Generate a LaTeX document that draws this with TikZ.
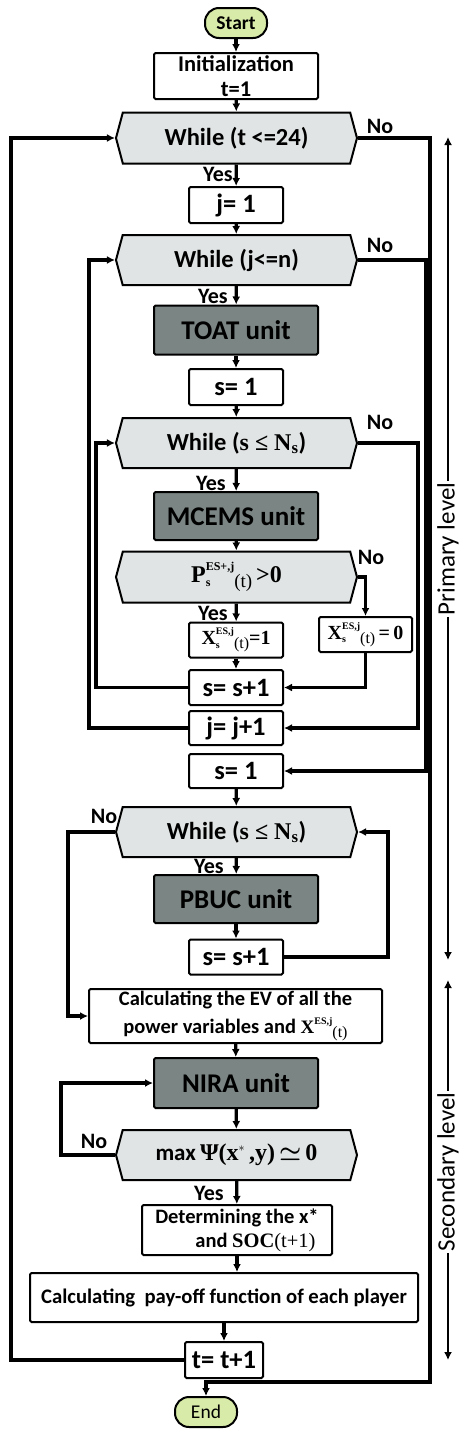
\documentclass[tikz,border=0pt]{standalone}
\usepackage{amsmath}
\usepackage{fontspec}
\setmainfont{Carlito}
\newfontfamily\tms{Liberation Serif}
\usetikzlibrary{shapes.symbols, arrows.meta}

\definecolor{termgreen}{HTML}{D9EBA8}
\definecolor{condgray}{HTML}{E1E4E4}
\definecolor{unitgray}{HTML}{7B8584}

% stacked sub/superscripts in the serif formulas: {size}{sup}{sub}
\newlength\supw
\newcommand{\esj}[3]{\settowidth{\supw}{\fontsize{#1}{#1}\selectfont #2}%
  \rlap{\raisebox{0.5em}{\fontsize{#1}{#1}\selectfont #2}}%
  \rlap{\raisebox{-0.18em}{\fontsize{#1}{#1}\selectfont #3}}\hspace{\supw}}
\newcommand{\tpar}[1]{\raisebox{-0.45ex}{\fontsize{#1}{#1}\selectfont\mdseries(t)}}

\begin{document}
\begin{tikzpicture}[x=1pt, y=-1pt, >={Latex[length=8pt,width=8pt]}]
\tikzstyle{box}=[draw=black, line width=2pt, fill=white, rounded corners=1.5pt, inner sep=1pt, align=center, font=\bfseries\fontsize{26.5}{28}\selectfont]
\tikzstyle{unit}=[box, fill=unitgray, text=black, font=\bfseries\fontsize{27}{29}\selectfont]
\tikzstyle{cond}=[shape=signal, signal to=west and east, signal pointer angle=150, draw=black, line width=2pt, fill=condgray, inner sep=1pt, minimum width=241pt, minimum height=50pt, font=\bfseries\fontsize{24.5}{26}\selectfont]
\tikzstyle{term}=[draw=black, line width=2pt, fill=termgreen, rounded corners=14pt, minimum width=62pt, minimum height=30pt, inner sep=0pt, font=\fontsize{19.5}{21}\selectfont]
\tikzstyle{flow}=[->, line width=3.2pt]
\tikzstyle{lbl}=[inner sep=0pt, font=\bfseries\fontsize{22}{24}\selectfont]
\tikzstyle{level}=[rotate=90, inner sep=1.5pt, font=\fontsize{25}{28}\selectfont]

\useasboundingbox (0,0) rectangle (474,1432);

% outer loop over t
\node (start) at (236,23) [term] {\bfseries Start};
\node (init) at (236,76) [box, minimum width=164pt, minimum height=46pt, inner sep=0pt, font=\bfseries\fontsize{22.5}{25}\selectfont] {Initialization\\t=1};
\node (whilet) at (236.5,138) [cond, minimum height=51pt] {While (t <=24)};
\node (j1) at (236,205) [box, minimum width=94pt, minimum height=36pt] {j= 1};

% loop over j
\node (whilej) at (236.5,260) [cond] {While (j<=n)};
\node (toat) at (236,330) [unit, minimum width=164pt, minimum height=49pt] {TOAT unit};
\node (s1a) at (236,387) [box, minimum width=94pt, minimum height=36pt] {s= 1};

% loop over s
\node (whiles) at (236.5,443) [cond] {While ({\tms\fontsize{24}{26}\selectfont s ≤ N$_\text{s}$})};
\node (mcems) at (236,516) [unit, minimum width=164pt, minimum height=48pt] {MCEMS unit};
\node (pcond) at (236.5,577) [cond, minimum height=51pt] {\tms\fontsize{24}{26}\selectfont P\esj{12}{ES+,j}{s}\tpar{19}\,>0};
\node (x1) at (236,640) [box, minimum width=94pt, minimum height=35pt, font=\tms\bfseries\fontsize{20}{22}\selectfont] {X\esj{10}{ES,j}{s}\tpar{16}=1};
\node (x0) at (365.5,634.5) [box, minimum width=93pt, minimum height=35pt, font=\tms\bfseries\fontsize{20}{22}\selectfont] {X\esj{10}{ES,j}{s}\tpar{16}\,=\,0};
\node (ss1a) at (236,687.5) [box, minimum width=94pt, minimum height=35pt] {s= s+1};
\node (jj1) at (236,728) [box, minimum width=94pt, minimum height=34pt] {j= j+1};
\node (s1b) at (236,771) [box, minimum width=94pt, minimum height=34pt] {s= 1};

% second loop over s
\node (whiles2) at (236.5,832) [cond] {While ({\tms\fontsize{24}{26}\selectfont s ≤ N$_\text{s}$})};
\node (pbuc) at (236,899) [unit, minimum width=164pt, minimum height=48pt] {PBUC unit};
\node (ss1b) at (236,957) [box, minimum width=94pt, minimum height=35pt] {s= s+1};
\node (calcev) at (235.5,1016) [box, minimum width=293pt, minimum height=54pt, inner sep=0pt, font=\bfseries\fontsize{20.5}{28}\selectfont] {Calculating the EV of all the\\power variables and {\tms\fontsize{19}{20}\selectfont X\esj{10}{ES,j}{}\tpar{16}}};

% secondary level
\node (nira) at (236,1083) [unit, minimum width=164pt, minimum height=50pt] {NIRA unit};
\node (maxcond) at (236.5,1155) [cond] {{\fontsize{23}{24}\selectfont max}\,{\tms\fontsize{24}{26}\selectfont Ψ(x$^{\scriptscriptstyle *}$\,,y)\,$\boldsymbol{\simeq}$\,0}};
\node (determ) at (237,1230) [box, minimum width=190pt, minimum height=50pt, inner sep=0pt, font=\bfseries\fontsize{20.5}{24}\selectfont] {Determining the x*\\\hspace*{1.8em}and {\tms SOC{\mdseries(t+1)}}};
\node (payoff) at (224,1297.5) [box, minimum width=388pt, minimum height=49pt, font=\bfseries\fontsize{20.7}{22}\selectfont] {Calculating~ pay-off function of each player};
\node (tt1) at (224,1360) [box, minimum width=78pt, minimum height=36pt] {t= t+1};
\node (end) at (206,1412) [term] {End};

\coordinate (noend) at (430,1382);

% straight arrows
\draw [flow] (start) -- (init);
\draw [flow] (init) -- (whilet);
\draw [flow] (whilet) -- (j1);
\draw [flow] (j1) -- (whilej);
\draw [flow] (whilej) -- (toat);
\draw [flow] (toat) -- (s1a);
\draw [flow] (s1a) -- (whiles);
\draw [flow] (whiles) -- (mcems);
\draw [flow] (mcems) -- (pcond);
\draw [flow] (pcond) -- (x1);
\draw [flow] (x1) -- (ss1a);
\draw [flow] (s1b) -- (whiles2);
\draw [flow] (whiles2) -- (pbuc);
\draw [flow] (pbuc) -- (ss1b);
\draw [flow] (calcev) -- (nira);
\draw [flow] (nira) -- (maxcond);
\draw [flow] (maxcond) -- (determ);
\draw [flow] (determ.south) -- (determ.south |- payoff.north);
\draw [flow] (payoff) -- (tt1);

% branches and loops
\draw [flow] (whilet.east) -| (noend) -| (end.north);
\draw [flow] (whilej.east) -- ++(68,0) |- (s1b.east);
\draw [flow] (whiles.east) -- ++(60,0) |- (jj1.east);
\draw [flow] (pcond.east) -| (x0.north);
\draw [flow] (x0.south) |- (ss1a.east);
\draw [flow] (ss1a.west) -- ++(-92,0) |- (whiles.west);
\draw [flow] (jj1.west) -- ++(-99,0) |- (whilej.west);
\draw [flow] (tt1.west) -- ++(-173,0) |- (whilet.west);
\draw [flow] (whiles2.west) -- ++(-47,0) |- (calcev.west);
\draw [flow] (ss1b.east) -- ++(104,0) |- (whiles2.east);
\draw [flow] (maxcond.west) -- ++(-54,0) |- (nira.west);

% Yes / No
\node (yes1) at (218,174) [lbl] {Yes};
\node (no1) at (380,126) [lbl] {No};
\node (yes2) at (213,296) [lbl] {Yes};
\node (no2) at (380,245) [lbl] {No};
\node (no3) at (380,422) [lbl] {No};
\node (yes3) at (211,483) [lbl] {Yes};
\node (no4) at (371,557) [lbl] {No};
\node (yes4) at (213,613) [lbl] {Yes};
\node (no5) at (104,816) [lbl] {No};
\node (yes5) at (209,866) [lbl] {Yes};
\node (no6) at (94,1141) [lbl] {No};
\node (yes6) at (209,1193) [lbl] {Yes};

% level arrows
\coordinate (primtop) at (448,137);
\coordinate (primbot) at (448,960);
\coordinate (sectop) at (448,980);
\coordinate (secbot) at (448,1360);
\node (prim) at (448,549) [level] {Primary level};
\node (sec) at (448,1172) [level] {Secondary level};
\draw [->, line width=1.5pt] (prim) -- (primtop);
\draw [->, line width=1.5pt] (prim) -- (primbot);
\draw [->, line width=1.5pt] (sec) -- (sectop);
\draw [->, line width=1.5pt] (sec) -- (secbot);
\end{tikzpicture}
\end{document}
